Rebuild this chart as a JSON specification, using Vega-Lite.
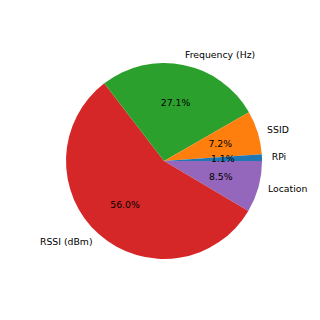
{
  "$schema": "https://vega.github.io/schema/vega-lite/v6.json",
  "width": 312,
  "height": 318,
  "padding": {"left": 8, "top": 2, "right": 0, "bottom": 0},
  "autosize": {"type": "pad"},
  "background": "white",
  "config": {"view": {"stroke": null}, "text": {"font": "DejaVu Sans", "fontSize": 9.3, "color": "black"}},
  "data": {"values": [
    {"label": "Location", "v": 0.085, "k": 1},
    {"label": "RSSI (dBm)", "v": 0.560, "k": 2},
    {"label": "Frequency (Hz)", "v": 0.271, "k": 3},
    {"label": "SSID", "v": 0.072, "k": 4},
    {"label": "RPi", "v": 0.011, "k": 5}
  ]},
  "encoding": {
    "theta": {"field": "v", "type": "quantitative", "stack": true, "scale": {"range": [1.5707963, 7.8539816]}},
    "order": {"field": "k", "type": "quantitative", "sort": "ascending"}
  },
  "layer": [
    {
      "mark": {"type": "arc", "outerRadius": 98},
      "encoding": {
        "color": {"field": "label", "type": "nominal", "legend": null,
          "scale": {"domain": ["RPi", "SSID", "Frequency (Hz)", "RSSI (dBm)", "Location"],
                    "range": ["#1f77b4", "#ff7f0e", "#2ca02c", "#d62728", "#9467bd"]}}
      }
    },
    {
      "mark": {"type": "text", "radius": 58.8, "align": "center", "baseline": "middle"},
      "encoding": {"text": {"field": "v", "type": "quantitative", "format": ".1%"}}
    },
    {
      "mark": {"type": "text", "radius": 107.8, "align": "left", "baseline": "middle"},
      "encoding": {"text": {"condition": {"test": "datum.label !== 'RSSI (dBm)'", "field": "label"}, "value": ""}}
    },
    {
      "mark": {"type": "text", "radius": 107.8, "align": "right", "baseline": "middle"},
      "encoding": {"text": {"condition": {"test": "datum.label === 'RSSI (dBm)'", "field": "label"}, "value": ""}}
    }
  ]
}
